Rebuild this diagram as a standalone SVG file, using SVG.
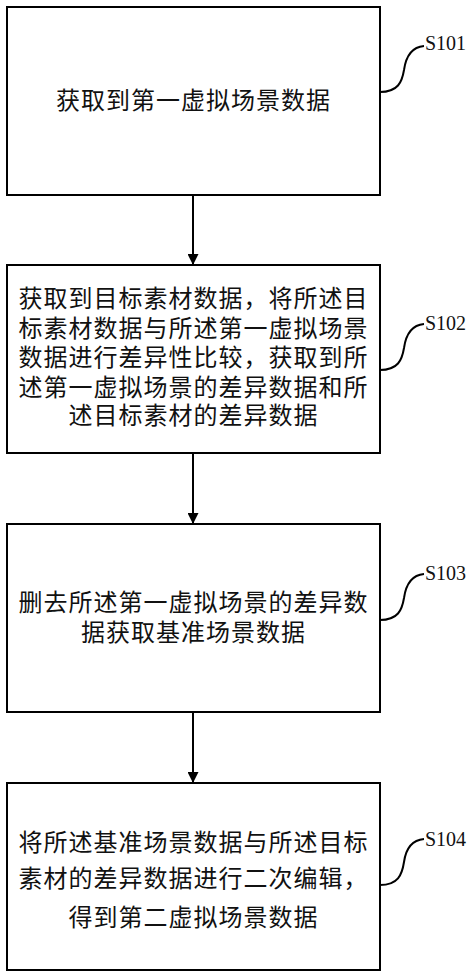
<svg xmlns="http://www.w3.org/2000/svg" width="474" height="978" viewBox="0 0 474 978">
<style>
.box{fill:#fff;stroke:#000;stroke-width:2}
.t{font-family:"Noto Sans CJK SC","Noto Sans",sans-serif;font-size:24px;letter-spacing:1px;fill:#111;text-anchor:middle}
.lbl{font-family:"Liberation Serif",serif;font-size:20px;fill:#111}
.lead{fill:none;stroke:#000;stroke-width:2}
.conn{stroke:#000;stroke-width:2;fill:none}
</style>
<defs>
<marker id="ah" viewBox="0 0 10 10" refX="10" refY="5" markerWidth="5.5" markerHeight="5.5" orient="auto" markerUnits="strokeWidth">
<path d="M0,0 L10,5 L0,10 z" fill="#000"/>
</marker>
</defs>
<rect width="474" height="978" fill="#fff"/>
<g id="connectors">
<line class="conn" x1="193" y1="195" x2="193" y2="265" marker-end="url(#ah)"/>
<line class="conn" x1="193" y1="453" x2="193" y2="524" marker-end="url(#ah)"/>
<line class="conn" x1="193" y1="712" x2="193" y2="783" marker-end="url(#ah)"/>
</g>
<g id="S101">
<rect class="box" x="7" y="7" width="373" height="188"/>
<text class="t" x="193.5" y="109">获取到第一虚拟场景数据</text>
<path class="lead" d="M380,92 C398,92 402,82 404,70 C406,56 412,47 424,46"/>
<text class="lbl" x="425" y="50">S101</text>
</g>
<g id="S102">
<rect class="box" x="7" y="265" width="373" height="188"/>
<text class="t" x="193.5" y="307">获取到目标素材数据，将所述目</text>
<text class="t" x="193.5" y="337">标素材数据与所述第一虚拟场景</text>
<text class="t" x="193.5" y="366">数据进行差异性比较，获取到所</text>
<text class="t" x="193.5" y="396">述第一虚拟场景的差异数据和所</text>
<text class="t" x="193.5" y="424">述目标素材的差异数据</text>
<path class="lead" d="M380,370 C398,370 402,360 404,348 C406,334 412,325 424,324"/>
<text class="lbl" x="425" y="330">S102</text>
</g>
<g id="S103">
<rect class="box" x="7" y="524" width="373" height="188"/>
<text class="t" x="193.5" y="611">删去所述第一虚拟场景的差异数</text>
<text class="t" x="193.5" y="641">据获取基准场景数据</text>
<path class="lead" d="M380,620 C398,620 402,610 404,598 C406,584 412,575 424,574"/>
<text class="lbl" x="425" y="580">S103</text>
</g>
<g id="S104">
<rect class="box" x="7" y="783" width="373" height="187"/>
<text class="t" x="193.5" y="851">将所述基准场景数据与所述目标</text>
<text class="t" x="193.5" y="887">素材的差异数据进行二次编辑，</text>
<text class="t" x="193.5" y="926">得到第二虚拟场景数据</text>
<path class="lead" d="M380,885 C398,885 402,875 404,862 C406,848 412,840 424,839"/>
<text class="lbl" x="425" y="846">S104</text>
</g>
</svg>
